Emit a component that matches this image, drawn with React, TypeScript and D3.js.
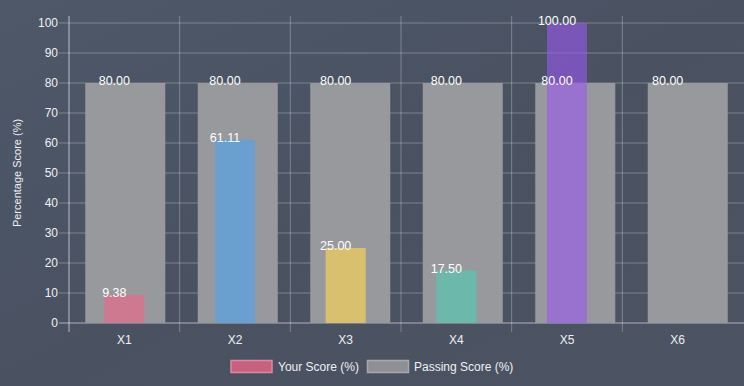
import React from "react";
import * as d3 from "d3";

const categories = ["X1", "X2", "X3", "X4", "X5", "X6"];
const yourScore = [9.38, 61.11, 25.0, 17.5, 100.0, 0];
const passingScore = [80, 80, 80, 80, 80, 80];
const barColors = ["#de6f8d", "#5da1df", "#eaca61", "#60c2b0", "#9a58f2", "#cccccc"];
const barOpacity = [0.78, 0.78, 0.78, 0.78, 0.6, 0.78];
const yTicks = [0, 10, 20, 30, 40, 50, 60, 70, 80, 90, 100];

const width = 744;
const height = 386;
const margin = { left: 69, right: 0, top: 23, bottom: 63 };

const App = () => {
  // the score bars, labels and grid sit on a slightly narrower band than the passing bars
  const x = d3
    .scaleBand()
    .domain(categories)
    .range([margin.left, 733]);
  const xPass = d3
    .scaleBand()
    .domain(categories)
    .range([margin.left, width - margin.right]);
  const y = d3
    .scaleLinear()
    .domain([0, 100])
    .range([height - margin.bottom, margin.top]);

  const font = "'Liberation Sans', Arial, Helvetica, sans-serif";
  const grid = "rgba(255,255,255,0.28)";
  const bw = x.bandwidth();
  const pbw = xPass.bandwidth();
  const passW = 80;
  const yourW = 40;

  return (
    <svg
      width={width}
      height={height}
      style={{ position: "absolute", left: 0, top: 0 }}
      fontFamily={font}
    >
      <defs>
        <linearGradient id="bg" x1="0" y1="0" x2="1" y2="1">
          <stop offset="0%" stopColor="#4e5868" />
          <stop offset="50%" stopColor="#4a5262" />
          <stop offset="100%" stopColor="#4c5363" />
        </linearGradient>
      </defs>
      <rect width={width} height={height} fill="url(#bg)" />

      {/* horizontal grid */}
      {yTicks.map(t => (
        <g key={t}>
          <line
            x1={margin.left - 10}
            x2={width}
            y1={y(t)}
            y2={y(t)}
            stroke={t === 0 ? "rgba(255,255,255,0.55)" : grid}
          />
          <text
            x={margin.left - 11}
            y={y(t) + 4}
            textAnchor="end"
            fontSize={12}
            fill="#eef0f2"
          >
            {t}
          </text>
        </g>
      ))}

      {/* vertical grid */}
      {categories.map(c => (
        <line
          key={c}
          x1={x(c)}
          x2={x(c)}
          y1={margin.top - 7}
          y2={y(0) + 9}
          stroke={grid}
        />
      ))}
      <line
        x1={margin.left}
        x2={margin.left}
        y1={margin.top - 7}
        y2={y(0) + 9}
        stroke="rgba(255,255,255,0.4)"
      />

      {/* passing bars */}
      {categories.map((c, i) => (
        <rect
          key={"p" + c}
          x={xPass(c)! + (pbw - passW) / 2}
          y={y(passingScore[i])}
          width={passW}
          height={y(0) - y(passingScore[i])}
          fill="#98999d"
        />
      ))}

      {/* your score bars */}
      {categories.map((c, i) =>
        yourScore[i] > 0 ? (
          <rect
            key={"y" + c}
            x={x(c)! + (bw - yourW) / 2}
            y={y(yourScore[i])}
            width={yourW}
            height={y(0) - y(yourScore[i])}
            fill={barColors[i]}
            fillOpacity={barOpacity[i]}
          />
        ) : null
      )}

      {/* value labels */}
      {categories.map((c, i) => (
        <text
          key={"lp" + c}
          x={x(c)! + bw / 2 - 10}
          y={y(passingScore[i]) + 2}
          textAnchor="middle"
          fontSize={12.5}
          fill="#ffffff"
        >
          {passingScore[i].toFixed(2)}
        </text>
      ))}
      {categories.map((c, i) =>
        yourScore[i] > 0 ? (
          <text
            key={"ly" + c}
            x={x(c)! + bw / 2 - 10}
            y={y(yourScore[i]) + 2}
            textAnchor="middle"
            fontSize={12.5}
            fill="#ffffff"
          >
            {yourScore[i].toFixed(2)}
          </text>
        ) : null
      )}

      {/* x labels */}
      {categories.map(c => (
        <text
          key={"xl" + c}
          x={x(c)! + bw / 2}
          y={y(0) + 21}
          textAnchor="middle"
          fontSize={12}
          fill="#eef0f2"
        >
          {c}
        </text>
      ))}

      {/* y title */}
      <text
        transform={`translate(21 ${(y(0) + y(100)) / 2}) rotate(-90)`}
        textAnchor="middle"
        fontSize={11}
        fill="#eef0f2"
      >
        Percentage Score (%)
      </text>

      {/* legend */}
      <g>
        <rect x={231} y={360.5} width={41} height={12} fill="#c8607f" stroke="#d88aa0" strokeWidth={1.5} />
        <text x={278} y={371} fontSize={12} fill="#eef0f2">
          Your Score (%)
        </text>
        <rect x={367.5} y={360.5} width={41} height={12} fill="#8e9094" stroke="#a6a8ac" strokeWidth={1.5} />
        <text x={414} y={371} fontSize={12} fill="#eef0f2">
          Passing Score (%)
        </text>
      </g>
    </svg>
  );
};

export default App;
